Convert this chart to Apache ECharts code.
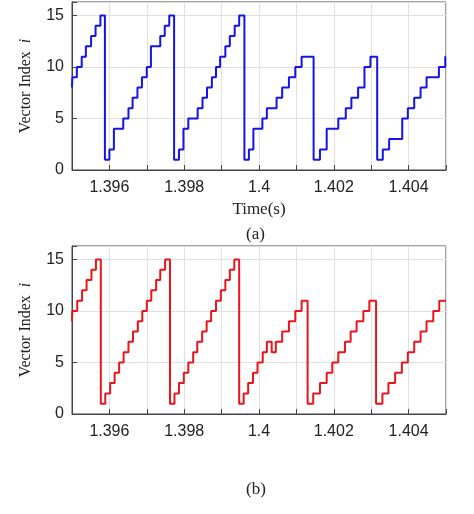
<!DOCTYPE html>
<html>
<head>
<meta charset="utf-8">
<script src="https://cdn.jsdelivr.net/npm/echarts@6/dist/echarts.min.js"></script>
<style>
  html, body { margin: 0; padding: 0; background: #fff; }
  #chart { width: 474px; height: 514px; }
</style>
</head>
<body>
<div id="chart"></div>
<script>
// step change points: time (s) and vector index
const timesA = [1.39500,1.39501,1.39513,1.39526,1.39537,1.39551,1.39563,1.39576,1.39588,1.39600,1.39612,1.39637,1.39651,1.39662,1.39675,1.39687,1.39700,1.39711,1.39736,1.39748,1.39760,1.39773,1.39786,1.39798,1.39811,1.39836,1.39849,1.39861,1.39874,1.39885,1.39896,1.39910,1.39922,1.39935,1.39947,1.39961,1.39973,1.39985,1.40009,1.40021,1.40047,1.40062,1.40080,1.40097,1.40114,1.40146,1.40163,1.40181,1.40212,1.40232,1.40247,1.40265,1.40282,1.40298,1.40316,1.40331,1.40348,1.40383,1.40398,1.40415,1.40432,1.40448,1.40481,1.40498,1.40500];
const indexA = [8,9,10,11,12,13,14,15,1,2,4,5,6,7,8,9,10,12,13,14,15,1,2,4,5,6,7,8,9,10,11,12,13,14,15,1,2,4,5,6,7,8,9,10,11,1,2,4,5,6,7,8,10,11,1,2,3,5,6,7,8,9,10,11,11];

const timesB = [1.39500,1.39501,1.39514,1.39527,1.39539,1.39552,1.39564,1.39577,1.39589,1.39602,1.39614,1.39626,1.39638,1.39651,1.39663,1.39676,1.39688,1.39700,1.39712,1.39725,1.39736,1.39749,1.39762,1.39774,1.39786,1.39799,1.39811,1.39824,1.39835,1.39848,1.39860,1.39872,1.39885,1.39898,1.39910,1.39922,1.39934,1.39947,1.39959,1.39971,1.39984,1.39996,1.40010,1.40021,1.40034,1.40045,1.40062,1.40080,1.40097,1.40114,1.40130,1.40145,1.40163,1.40181,1.40196,1.40212,1.40230,1.40245,1.40261,1.40279,1.40295,1.40313,1.40330,1.40346,1.40364,1.40382,1.40398,1.40415,1.40432,1.40448,1.40466,1.40482,1.40500];
const indexB = [9,10,11,12,13,14,15,1,2,3,4,5,6,7,8,9,10,11,12,13,14,15,1,2,3,4,5,6,7,8,9,10,11,12,13,14,15,1,2,3,4,5,6,7,6,7,8,9,10,11,1,2,3,4,5,6,7,8,9,10,11,1,2,3,4,5,6,7,8,9,10,11,11];

const xTicks = [1.396, 1.398, 1.4, 1.402, 1.404];

const pairs = (t, v) => t.map((x, i) => [x, v[i]]);

function xAxisOpt(idx, name) {
  return {
    type: 'value', gridIndex: idx, min: 1.395, max: 1.405, interval: 0.001,
    name: name, nameLocation: 'middle', nameGap: 31,
    nameTextStyle: { fontFamily: 'Liberation Serif', fontSize: 17, color: '#222' },
    axisLine: { lineStyle: { color: '#444' } },
    axisTick: { inside: true, length: 5, lineStyle: { color: '#444' } },
    axisLabel: {
      fontFamily: 'Liberation Sans', fontSize: 16, color: '#222', margin: 10,
      formatter: v => {
        const m = xTicks.find(t => Math.abs(t - v) < 1e-7);
        return m === undefined ? '' : String(m);
      }
    },
    splitLine: { show: true, lineStyle: { color: '#e0e0e0' } }
  };
}

function yAxisOpt(idx) {
  return {
    type: 'value', gridIndex: idx, min: 0, max: 16.3, interval: 5,
    name: '{a|Vector Index  }{b|i}', nameLocation: 'middle', nameGap: 38,
    nameTextStyle: { rich: {
      a: { fontFamily: 'Liberation Serif', fontSize: 16, color: '#222' },
      b: { fontFamily: 'Liberation Serif', fontSize: 16, fontStyle: 'italic', color: '#222' }
    } },
    axisLine: { lineStyle: { color: '#444' } },
    axisTick: { inside: true, length: 5, lineStyle: { color: '#444' } },
    axisLabel: { fontFamily: 'Liberation Sans', fontSize: 16, color: '#222', margin: 8,
      formatter: v => (v % 5 === 0 && v <= 15) ? String(v) : '' },
    splitLine: { show: true, lineStyle: { color: '#e0e0e0' } }
  };
}

const chart = echarts.init(document.getElementById('chart'));
chart.setOption({
  animation: false,
  grid: [
    { left: 72, right: 28, top: 2, height: 168, show: true, borderColor: '#444', borderWidth: 1 },
    { left: 72, right: 28, top: 246, height: 168, show: true, borderColor: '#444', borderWidth: 1 }
  ],
  xAxis: [xAxisOpt(0, 'Time(s)'), xAxisOpt(1, '')],
  yAxis: [yAxisOpt(0), yAxisOpt(1)],
  graphic: [
    { type: 'text', left: 246, top: 226, style: { text: '(a)', font: '17px "Liberation Serif"', fill: '#222' } },
    { type: 'text', left: 246, top: 481, style: { text: '(b)', font: '17px "Liberation Serif"', fill: '#222' } }
  ],
  series: [
    { type: 'line', xAxisIndex: 0, yAxisIndex: 0, step: 'end', showSymbol: false,
      data: pairs(timesA, indexA), lineStyle: { color: '#1414e6', width: 2 } },
    { type: 'line', xAxisIndex: 1, yAxisIndex: 1, step: 'end', showSymbol: false,
      data: pairs(timesB, indexB), lineStyle: { color: '#e8161c', width: 2 } }
  ]
});
</script>
</body>
</html>
